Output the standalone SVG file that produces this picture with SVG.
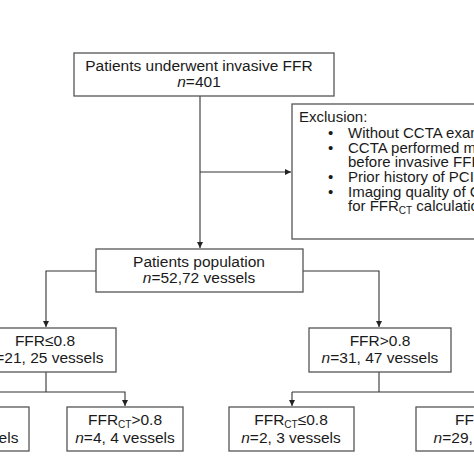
<svg xmlns="http://www.w3.org/2000/svg" width="474" height="474" viewBox="0 0 474 474">
<defs>
<marker id="ah" viewBox="0 0 8 8" refX="8" refY="4" markerWidth="6" markerHeight="6" markerUnits="userSpaceOnUse" orient="auto">
<path d="M0,0 L8,4 L0,8 z" fill="#222"/>
</marker>
</defs>
<style>
.box{fill:#fff;stroke:#555;stroke-width:1.3}
.t{font-family:"Liberation Sans",Arial,sans-serif;font-size:15.5px;fill:#1a1a1a}
.e{font-size:15px}
.c{text-anchor:middle}
.sub{font-size:10px}
.ln{fill:none;stroke:#333;stroke-width:1.1}
</style>
<rect width="474" height="474" fill="#fff"/>
<g id="connectors">
<path class="ln" d="M200,96 V248" marker-end="url(#ah)"/>
<path class="ln" d="M200,172 H291" marker-end="url(#ah)"/>
<path class="ln" d="M96,271 H46 V327" marker-end="url(#ah)"/>
<path class="ln" d="M303,271 H379 V327" marker-end="url(#ah)"/>
<path class="ln" d="M46,372 V392"/>
<path class="ln" d="M-40,392 H125 V406" marker-end="url(#ah)"/>
<path class="ln" d="M-40,392 V406" marker-end="url(#ah)"/>
<path class="ln" d="M379,372 V392"/>
<path class="ln" d="M292,392 H492 V406" marker-end="url(#ah)"/>
<path class="ln" d="M292,392 V406" marker-end="url(#ah)"/>
</g>
<g id="n_top">
<rect class="box" x="74" y="53" width="260" height="43"/>
<text class="t c" x="199" y="71">Patients underwent invasive FFR</text>
<text class="t c" x="199" y="87"><tspan font-style="italic">n</tspan>=401</text>
</g>
<g id="n_excl">
<rect class="box" x="292" y="104" width="220" height="135"/>
<text class="t e" x="299" y="122">Exclusion:</text>
<g class="t e">
<text x="328" y="138">•</text><text x="348" y="138">Without CCTA examination</text>
<text x="328" y="153">•</text><text x="348" y="153">CCTA performed more than</text>
<text x="348" y="167">before invasive FFR</text>
<text x="328" y="182">•</text><text x="348" y="182">Prior history of PCI</text>
<text x="328" y="197">•</text><text x="348" y="197">Imaging quality of CCTA</text>
<text x="348" y="211">for FFR<tspan class="sub" dy="3">CT</tspan><tspan dy="-3"> calculation</tspan></text>
</g>
</g>
<g id="n_pop">
<rect class="box" x="96" y="249" width="207" height="43"/>
<text class="t c" x="199" y="267">Patients population</text>
<text class="t c" x="199" y="283"><tspan font-style="italic">n</tspan>=52,72 vessels</text>
</g>
<g id="n_ffr_le">
<rect class="box" x="-24" y="328" width="140" height="44"/>
<text class="t c" x="45" y="346">FFR≤0.8</text>
<text class="t c" x="45" y="363"><tspan font-style="italic">n</tspan>=21, 25 vessels</text>
</g>
<g id="n_ffr_gt">
<rect class="box" x="309" y="328" width="142" height="44"/>
<text class="t c" x="380" y="346">FFR&gt;0.8</text>
<text class="t c" x="380" y="363"><tspan font-style="italic">n</tspan>=31, 47 vessels</text>
</g>
<g id="n_a">
<rect class="box" x="-100" y="407" width="129" height="44"/>
<text class="t c" x="-40" y="425">FFR<tspan class="sub" dy="3">CT</tspan><tspan dy="-3">≤0.8</tspan></text>
<text class="t c" x="-40" y="443"><tspan font-style="italic">n</tspan>=17, 21 vessels</text>
</g>
<g id="n_b">
<rect class="box" x="67" y="407" width="116" height="44"/>
<text class="t c" x="125" y="425">FFR<tspan class="sub" dy="3">CT</tspan><tspan dy="-3">&gt;0.8</tspan></text>
<text class="t c" x="125" y="443"><tspan font-style="italic">n</tspan>=4, 4 vessels</text>
</g>
<g id="n_c">
<rect class="box" x="229" y="407" width="125" height="44"/>
<text class="t c" x="291" y="425">FFR<tspan class="sub" dy="3">CT</tspan><tspan dy="-3">≤0.8</tspan></text>
<text class="t c" x="291" y="443"><tspan font-style="italic">n</tspan>=2, 3 vessels</text>
</g>
<g id="n_d">
<rect class="box" x="416" y="407" width="152" height="44"/>
<text class="t c" x="492" y="425">FFR<tspan class="sub" dy="3">CT</tspan><tspan dy="-3">&gt;0.8</tspan></text>
<text class="t c" x="492" y="443"><tspan font-style="italic">n</tspan>=29, 44 vessels</text>
</g>
</svg>
